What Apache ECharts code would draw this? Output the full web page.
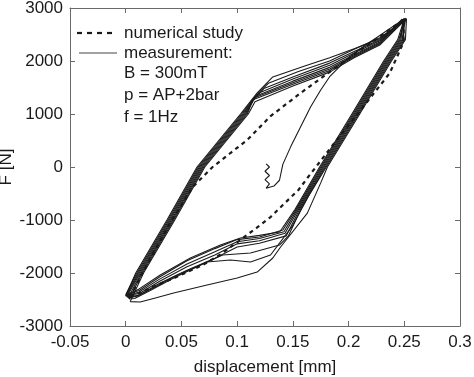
<!DOCTYPE html>
<html>
<head>
<meta charset="utf-8">
<script src="https://cdn.jsdelivr.net/npm/echarts@6/dist/echarts.min.js"></script>
<style>
  html, body { margin: 0; padding: 0; background: #fff; }
  #chart { width: 474px; height: 377px; }
</style>
</head>
<body>
<div id="chart"></div>
<script>
// axis ticks
const xTicks = [-0.05, 0, 0.05, 0.1, 0.15, 0.2, 0.25, 0.3];
const yTicks = [-3000, -2000, -1000, 0, 1000, 2000, 3000];

// legend / annotation text
const legendNames = ['numerical study', 'measurement:'];
const noteLines = ['B = 300mT', 'p = AP+2bar', 'f = 1Hz'];

// numerical study loop [displacement mm, force N]
const numerical = [
  [0.004, -2460], [0.015, -2000], [0.040, -1050], [0.060, -380], [0.078, 0],
  [0.094, 264], [0.109, 509], [0.130, 960], [0.157, 1396], [0.190, 1900],
  [0.222, 2370], [0.250, 2790], [0.249, 2340], [0.237, 1773], [0.210, 1050],
  [0.189, 500], [0.170, -19], [0.163, -208], [0.155, -434], [0.141, -717],
  [0.130, -944], [0.118, -1140], [0.100, -1420], [0.085, -1650], [0.069, -1850],
  [0.045, -2080], [0.022, -2283], [0.004, -2460]
];

// initial loading of the measurement
const initial = [
  [0.126, 60], [0.129, 0], [0.125, -80], [0.129, -160], [0.125, -240],
  [0.129, -320], [0.126, -400], [0.133, -360], [0.138, -250], [0.141, 50],
  [0.148, 380], [0.157, 760], [0.166, 1137], [0.175, 1453], [0.183, 1704],
  [0.192, 1893], [0.201, 2082], [0.213, 2270], [0.228, 2480], [0.250, 2800]
];

// measured cycles
const loop1 = [
  [0.000, -2430], [0.009, -2000], [0.037, -1000], [0.064, 0], [0.103, 1000],
  [0.118, 1400], [0.132, 1700], [0.160, 1900], [0.183, 2060], [0.205, 2230],
  [0.228, 2420], [0.250, 2790], [0.244, 2400], [0.2315, 2000], [0.203, 1000],
  [0.174, 0], [0.152, -800], [0.140, -1170], [0.138, -1227], [0.120, -1290],
  [0.103, -1340], [0.085, -1472], [0.058, -1717], [0.031, -2038], [0.012, -2300],
  [0.000, -2430]
];
const loop2 = [
  [0.000, -2410], [0.010, -2000], [0.038, -1000], [0.065, 0], [0.104, 1000],
  [0.117, 1350], [0.128, 1580], [0.155, 1800], [0.183, 2000], [0.205, 2220],
  [0.228, 2440], [0.251, 2770], [0.245, 2400], [0.2325, 2000], [0.204, 1000],
  [0.175, 0], [0.153, -800], [0.141, -1190], [0.120, -1320], [0.100, -1370],
  [0.080, -1540], [0.055, -1770], [0.030, -2080], [0.012, -2330], [0.000, -2410]
];
const loop3 = [
  [0.000, -2440], [0.011, -2000], [0.039, -1000], [0.066, 0], [0.105, 1000],
  [0.116, 1300], [0.124, 1480], [0.150, 1700], [0.183, 1960], [0.205, 2180],
  [0.228, 2400], [0.250, 2800], [0.246, 2400], [0.2335, 2000], [0.205, 1000],
  [0.176, 0], [0.154, -800], [0.142, -1220], [0.120, -1350], [0.100, -1410],
  [0.080, -1600], [0.055, -1830], [0.030, -2120], [0.012, -2360], [0.000, -2440]
];
const loop4 = [
  [0.001, -2420], [0.012, -2000], [0.040, -1000], [0.067, 0], [0.106, 1000],
  [0.114, 1250], [0.120, 1400], [0.150, 1660], [0.183, 1920], [0.205, 2150],
  [0.228, 2380], [0.249, 2780], [0.247, 2400], [0.2345, 2000], [0.206, 1000],
  [0.177, 0], [0.155, -800], [0.143, -1250], [0.120, -1390], [0.100, -1450],
  [0.080, -1660], [0.055, -1880], [0.030, -2160], [0.012, -2390], [0.001, -2420]
];
const loop5 = [
  [0.001, -2450], [0.013, -2000], [0.041, -1000], [0.068, 0], [0.107, 1000],
  [0.113, 1200], [0.117, 1340], [0.150, 1620], [0.183, 1880], [0.205, 2120],
  [0.228, 2360], [0.251, 2810], [0.248, 2400], [0.2355, 2000], [0.207, 1000],
  [0.178, 0], [0.156, -800], [0.144, -1300], [0.120, -1440], [0.100, -1510],
  [0.080, -1720], [0.055, -1950], [0.030, -2200], [0.012, -2420], [0.001, -2450]
];
const loop6 = [
  [0.002, -2470], [0.014, -2000], [0.042, -1000], [0.069, 0], [0.108, 1000],
  [0.112, 1150], [0.115, 1300], [0.150, 1590], [0.183, 1850], [0.205, 2100],
  [0.228, 2340], [0.250, 2760], [0.249, 2400], [0.2365, 2000], [0.208, 1000],
  [0.179, 0], [0.157, -800], [0.146, -1300], [0.138, -1472], [0.112, -1623],
  [0.087, -1661], [0.067, -1850], [0.045, -2050], [0.025, -2280], [0.010, -2440],
  [0.002, -2470]
];
const loop7 = [
  [0.003, -2490], [0.015, -2000], [0.043, -1000], [0.070, 0], [0.109, 1000],
  [0.111, 1100], [0.113, 1260], [0.150, 1560], [0.183, 1820], [0.205, 2080],
  [0.228, 2320], [0.248, 2790], [0.250, 2400], [0.2375, 2000], [0.209, 1000],
  [0.180, 0], [0.164, -550], [0.150, -1100], [0.130, -1661], [0.112, -1793],
  [0.094, -1755], [0.073, -1793], [0.043, -2095], [0.022, -2330], [0.008, -2480],
  [0.003, -2490]
];
const loop8 = [
  [0.004, -2540], [0.016, -2000], [0.044, -1000], [0.071, 0], [0.110, 1000],
  [0.116, 1230], [0.150, 1530], [0.183, 1790], [0.205, 2060], [0.228, 2300],
  [0.252, 2800], [0.251, 2400], [0.2385, 2000], [0.210, 1000], [0.181, 0],
  [0.175, -300], [0.163, -870], [0.139, -1510], [0.132, -1717], [0.118, -1982],
  [0.100, -2095], [0.073, -2227], [0.043, -2378], [0.025, -2480], [0.013, -2548],
  [0.004, -2540]
];
const loops = [initial, loop1, loop2, loop3, loop4, loop5, loop6, loop7, loop8];

const chart = echarts.init(document.getElementById('chart'), null, { renderer: 'canvas' });

const FONT = 'Liberation Sans, Arial, sans-serif';
const INK = '#1a1a1a';
const AXIS = '#6a6a6a';

const fmtX = v => String(+v.toFixed(2));

function frameAxis(extra) {
  return Object.assign({
    type: 'value',
    axisLine: { show: true, onZero: false, lineStyle: { color: AXIS, width: 1 } },
    axisTick: { show: true, inside: true, length: 5, lineStyle: { color: AXIS } },
    splitLine: { show: false },
  }, extra);
}

const measureSeries = loops.map(d => ({
  name: legendNames[1],
  type: 'line',
  data: d,
  showSymbol: false,
  symbol: 'none',
  lineStyle: { color: INK, width: 1.1 },
  z: 2,
}));

// legend drawn by hand: a sample line and a label for each entry, then the notes
const legendGraphics = [
  { type: 'line', shape: { x1: 77, y1: 33, x2: 117, y2: 33 },
    style: { stroke: INK, lineWidth: 2.2, lineDash: [5, 5] } },
  { type: 'line', shape: { x1: 79, y1: 53, x2: 117, y2: 53 },
    style: { stroke: '#444', lineWidth: 1 } },
  ...legendNames.map((t, i) => ({
    type: 'text', x: 124, y: [33, 53][i],
    style: { text: t, font: '17px ' + FONT, fill: INK, textVerticalAlign: 'middle' },
  })),
  ...noteLines.map((t, i) => ({
    type: 'text', x: 124, y: [73, 95, 117][i],
    style: { text: t, font: '17px ' + FONT, fill: INK, textVerticalAlign: 'middle' },
  })),
];

const option = {
  animation: false,
  backgroundColor: '#fff',
  grid: { left: 70, right: 14, top: 8, bottom: 51, containLabel: false, outerBoundsMode: 'none' },
  graphic: legendGraphics,
  xAxis: [
    frameAxis({
      position: 'bottom',
      min: xTicks[0], max: xTicks[xTicks.length - 1], interval: 0.05,
      name: 'displacement [mm]',
      nameLocation: 'middle',
      nameGap: 33,
      nameTextStyle: { fontFamily: FONT, fontSize: 17, color: INK },
      axisLabel: { formatter: fmtX, margin: 8, fontFamily: FONT, fontSize: 17, color: INK },
    }),
    frameAxis({
      position: 'top',
      min: xTicks[0], max: xTicks[xTicks.length - 1], interval: 0.05,
      axisLabel: { show: false },
    }),
  ],
  yAxis: [
    frameAxis({
      position: 'left',
      min: yTicks[0], max: yTicks[yTicks.length - 1], interval: 1000,
      name: 'F [N]',
      nameLocation: 'middle',
      nameGap: 55,
      nameMoveOverlap: false,
      nameTextStyle: { fontFamily: FONT, fontSize: 17, color: INK },
      axisLabel: { formatter: v => String(v), margin: 7, fontFamily: FONT, fontSize: 17, color: INK },
    }),
    frameAxis({
      position: 'right',
      min: yTicks[0], max: yTicks[yTicks.length - 1], interval: 1000,
      axisLabel: { show: false },
    }),
  ],
  series: [
    {
      name: legendNames[0],
      type: 'line',
      data: numerical,
      showSymbol: false,
      symbol: 'none',
      lineStyle: { color: INK, width: 2.2, type: [4, 4] },
      z: 3,
    },
    ...measureSeries,
  ],
};

chart.setOption(option);
</script>
</body>
</html>
